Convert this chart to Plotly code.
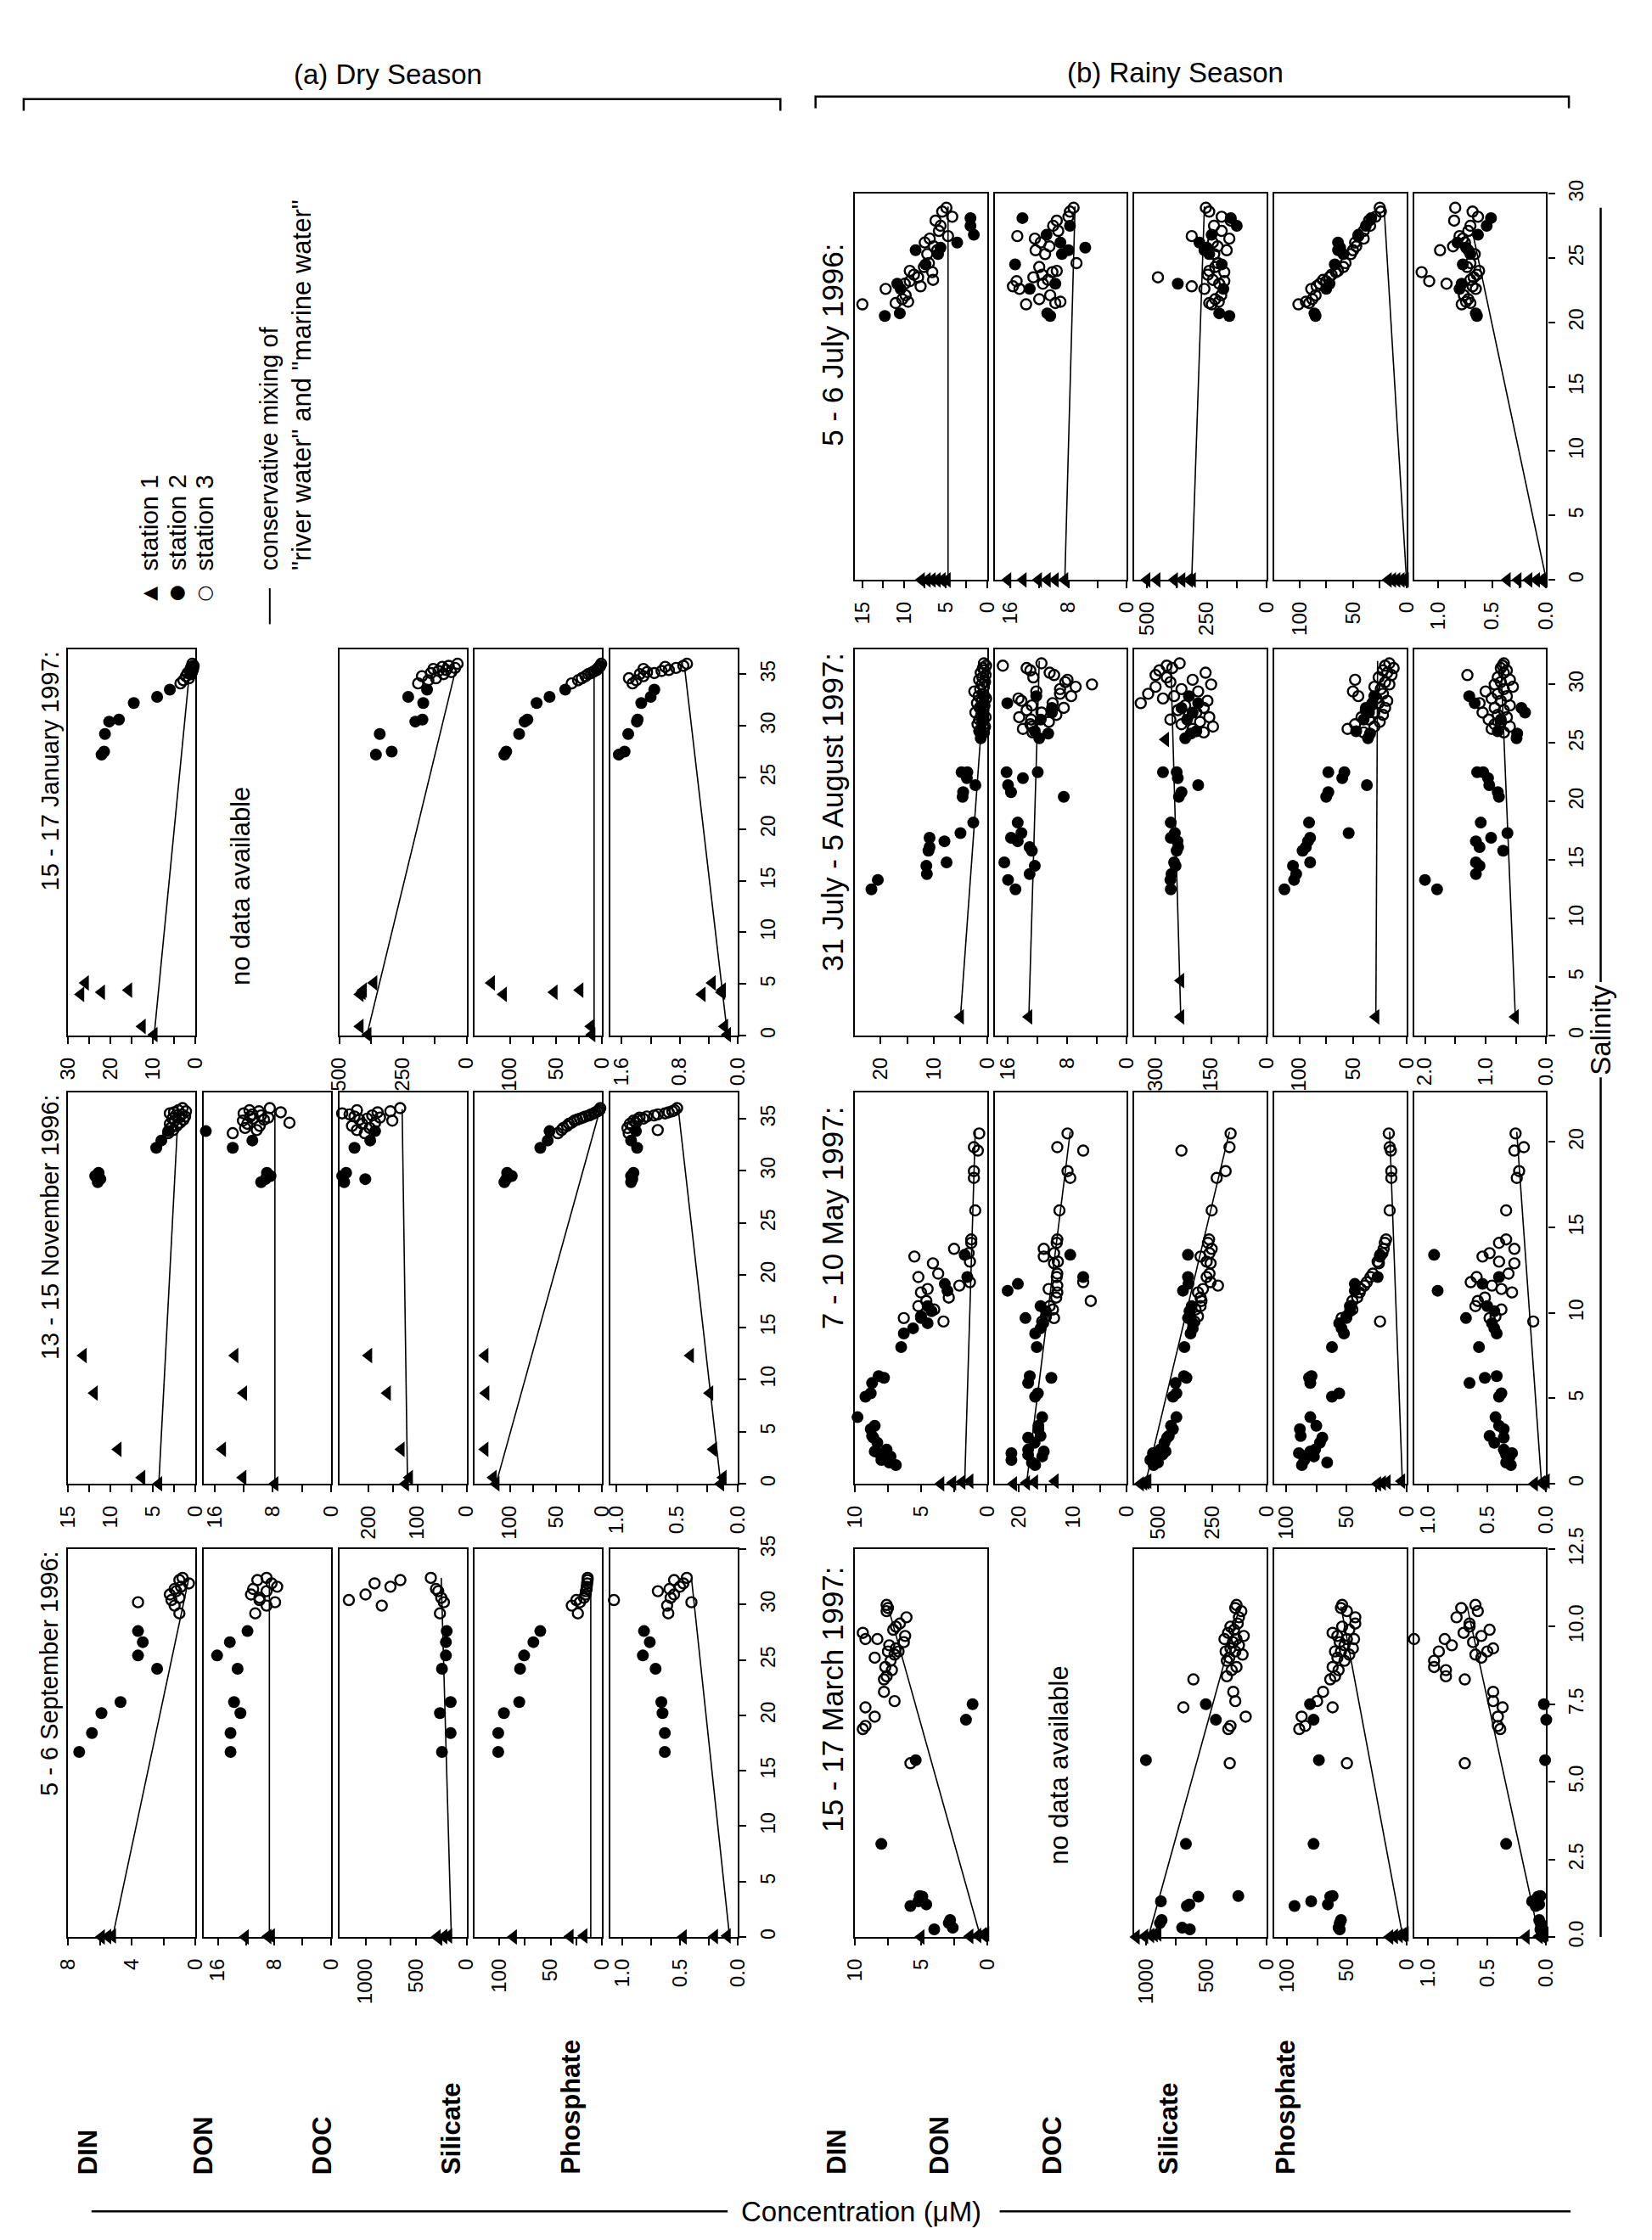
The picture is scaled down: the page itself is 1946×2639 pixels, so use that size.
import plotly.graph_objects as go

# ---------------- data (salinity, concentration in uM) ----------------
# station 1 = triangles, station 2 = filled circles, station 3 = open circles
# mix = conservative mixing line (river end, marine end)

# 5 - 6 September 1996
sep96_st1_sal = [0.0, 0.05, 0.1]
sep96_st1_din = [5.9, 5.5, 5.2]
sep96_st1_don = [12.1, 8.9, 8.4]
sep96_st1_doc = [290, 224, 176]
sep96_st1_sil = [86, 31, 17.6]
sep96_st1_pho = [0.47, 0.20, 0.09]
sep96_st2_sal = [16.7, 18.4, 20.2, 21.2, 24.2, 25.4, 26.6, 27.6]
sep96_st2_din = [7.3, 6.5, 5.9, 4.7, 2.4, 3.6, 3.3, 3.6]
sep96_st2_don = [14.2, 14.2, 12.8, 13.7, 13.2, 16.1, 14.3, 11.8]
sep96_st2_doc = [243, 157, 263, 157, 243, 204, 204, 196]
sep96_st2_sil = [100.8, 100.8, 95.3, 80.4, 79.6, 75.7, 66.7, 60.0]
sep96_st2_pho = [0.63, 0.63, 0.65, 0.66, 0.71, 0.82, 0.76, 0.81]
sep96_st3_sal = [29.2, 29.9, 30.2, 30.4, 30.6, 30.9, 31.2, 31.4, 31.6, 31.9, 32.2, 32.4]
sep96_st3_din = [1.0, 1.3, 3.6, 1.5, 1.0, 1.6, 1.2, 1.3, 0.9, 0.4, 1.0, 0.8]
sep96_st3_don = [10.7, 9.1, 7.9, 10.1, 10.1, 11.3, 9.1, 11.0, 7.6, 8.4, 10.4, 9.1]
sep96_st3_doc = [263, 839, 224, 1165, 250, 1000, 280, 302, 753, 910, 655, 353]
sep96_st3_sil = [23.5, 29.4, 21.6, 25.0, 17.6, 16.0, 15.7, 15.0, 14.9, 14.5, 14.1, 14.0]
sep96_st3_pho = [0.60, 0.61, 0.40, 1.07, 0.58, 0.55, 0.69, 0.59, 0.50, 0.47, 0.55, 0.44]
sep96_mix_sal = [0.0, 32.4]
sep96_mix_din = [5.2, 0.4]
sep96_mix_don = [8.7, 8.7]
sep96_mix_doc = [150, 250]
sep96_mix_sil = [11, 11]
sep96_mix_pho = [0.07, 0.40]

# 13 - 15 November 1996
nov96_st1_sal = [12.3, 8.7, 3.3, 0.6, 0.0]
nov96_st1_din = [13.2, 11.9, 9.1, 6.3, 4.3]
nov96_st1_don = [13.2, 12.0, 14.9, 12.1, 7.7]
nov96_st1_doc = [199, 161, 133, 116, 124]
nov96_st1_sil = [127, 126, 127, 118, 115]
nov96_st1_pho = [0.39, 0.23, 0.20, 0.12, 0.14]
nov96_st2_sal = [28.9, 29.2, 29.5, 29.8, 32.2, 32.9, 33.8]
nov96_st2_din = [11.5, 11.2, 11.8, 11.4, 4.6, 4.0, 3.2]
nov96_st2_don = [9.6, 9.0, 8.3, 8.8, 13.5, 10.8, 17.2]
nov96_st2_doc = [249, 206, 253, 245, 228, 196, 186]
nov96_st2_sil = [106, 104, 98, 103, 67, 59, 57]
nov96_st2_pho = [0.88, 0.87, 0.88, 0.86, 0.83, 0.88, 0.84]
nov96_st3_sal = [33.6, 33.9, 34.1, 34.3, 34.5, 34.6, 34.8, 34.9, 35.0,
                 35.1, 35.2, 35.3, 35.4, 35.5, 35.6, 35.7, 35.8, 36.0]
nov96_st3_din = [3.2, 2.6, 2.9, 2.2, 3.0, 1.8, 2.4, 1.4, 2.7, 1.9, 1.2, 2.3, 1.6, 3.0, 2.5, 1.1, 2.0, 1.5]
nov96_st3_don = [13.5, 10.2, 11.8, 9.8, 11.5, 5.7, 12.1, 9.2, 10.7, 8.6, 11.1, 9.6, 10.8, 12.0, 6.9, 9.9, 11.2, 8.4]
nov96_st3_doc = [207, 223, 197, 233, 212, 186, 151, 218, 202, 176, 228, 192, 238, 253, 181, 155, 223, 135]
nov96_st3_sil = [48, 44, 42, 38, 36, 33, 30, 27, 24, 21, 18, 14, 12, 9, 7, 5, 3, 2]
nov96_st3_pho = [0.90, 0.66, 0.91, 0.87, 0.89, 0.84, 0.86, 0.83, 0.78,
                 0.81, 0.75, 0.69, 0.66, 0.60, 0.57, 0.54, 0.52, 0.50]
nov96_mix_sal = [0.0, 35.9]
nov96_mix_din = [4.3, 2.0]
nov96_mix_don = [7.7, 7.7]
nov96_mix_doc = [120, 131]
nov96_mix_sil = [115, 2.2]
nov96_mix_pho = [0.14, 0.49]

# 15 - 17 January 1997 (no DON data)
jan97_st1_sal = [5.1, 4.0, 4.2, 4.4, 0.9, 0.1]
jan97_st1_din = [25.9, 27.0, 22.1, 15.7, 12.5, 9.7]
jan97_st1_doc = [364, 418, 410, 405, 418, 387]
jan97_st1_sil = [120, 107, 52, 24, 12, 11]
jan97_st1_pho = [0.35, 0.49, 0.22, 0.21, 0.18, 0.14]
jan97_st2_sal = [27.2, 27.5, 29.2, 30.4, 30.6, 32.2, 32.8, 33.5]
jan97_st2_din = [22.1, 21.5, 21.3, 20.3, 18.0, 14.5, 9.0, 6.0]
jan97_st2_doc = [356, 294, 341, 201, 173, 170, 229, 155]
jan97_st2_sil = [106, 104, 90, 84, 81, 71, 57, 40]
jan97_st2_pho = [1.64, 1.56, 1.51, 1.39, 1.38, 1.33, 1.20, 1.15]
jan97_st3_sal = [34.1, 34.4, 34.6, 34.8, 35.0, 35.1, 35.2, 35.3, 35.4, 35.5, 35.6, 35.7, 35.8, 36.0]
jan97_st3_din = [3.5, 2.8, 1.5, 2.2, 1.0, 1.8, 0.8, 1.3, 0.6, 1.1, 0.5, 0.9, 0.4, 0.7]
jan97_st3_doc = [190, 150, 120, 175, 90, 140, 60, 110, 80, 130, 45, 95, 70, 35]
jan97_st3_sil = [33, 26, 22, 18, 15, 12, 10, 8, 6, 5, 4, 3, 2, 1]
jan97_st3_pho = [1.45, 1.40, 1.50, 1.30, 1.35, 1.15, 1.25, 1.05, 0.95, 1.30, 0.85, 1.00, 0.75, 0.70]
jan97_mix_sal = [0.0, 35.5]
jan97_mix_din = [9.7, 1.3]
jan97_mix_doc = [392, 42]
jan97_mix_sil = [8.7, 8.7]
jan97_mix_pho = [0.14, 0.73]

# 15 - 17 March 1997 (no DON data)
mar97_st1_sal = [0.0, 0.02, 0.05, 0.08, 0.1]
mar97_st1_din = [5.0, 1.3, 0.7, 0.3, 0.1]
mar97_st1_doc = [1080, 1010, 960, 930, 900]
mar97_st1_sil = [14, 10, 6, 3, 1]
mar97_st1_pho = [0.17, 0.06, 0.04, 0.02, 0.01]
mar97_st2_sal = [0.25, 0.3, 0.45, 0.55, 1.0, 1.05, 1.15, 1.3, 1.32, 3.0, 5.7, 7.0, 7.5]
mar97_st2_din = [4.0, 2.6, 2.9, 2.8, 5.8, 4.6, 5.2, 4.9, 5.1, 8.0, 5.4, 1.6, 1.1]
mar97_st2_doc = [636, 700, 884, 870, 661, 640, 876, 566, 235, 669, 1000, 421, 504]
mar97_st2_sil = [56, 57, 56, 55, 94, 66, 80, 64, 62, 78, 73.5, 78, 81]
mar97_st2_pho = [0.05, 0.04, 0.05, 0.06, 0.09, 0.06, 0.12, 0.07, 0.05, 0.34, 0.01, 0.0, 0.02]
mar97_st3_sal = [5.6, 6.7, 6.8, 7.1, 7.4, 7.6, 7.9, 8.3, 8.4, 8.6, 8.7, 8.9, 9.0, 9.1, 9.2,
                 9.2, 9.3, 9.4, 9.5, 9.6, 9.6, 9.7, 9.8, 9.9, 10.0, 10.1, 10.3, 10.5, 10.6, 10.7]
mar97_st3_din = [5.8, 9.4, 9.2, 8.5, 9.2, 7.0, 7.8, 7.8, 7.6, 7.2, 7.7, 7.3, 8.5, 7.0, 7.5,
                 6.7, 6.9, 7.4, 6.3, 9.2, 8.3, 6.2, 9.4, 7.1, 6.9, 6.6, 6.1, 7.6, 7.5, 7.6]
mar97_st3_doc = [306, 318, 300, 174, 690, 260, 277, 607, 330, 290, 250, 330, 310, 200, 260,
                 340, 300, 230, 280, 350, 250, 190, 320, 270, 300, 240, 230, 210, 260, 250]
mar97_st3_sil = [50, 90, 85, 88, 62, 75, 70, 64, 60, 57, 62, 52, 58, 48, 55,
                 60, 45, 52, 56, 50, 44, 58, 62, 48, 54, 43, 43, 50, 55, 54]
mar97_st3_pho = [0.69, 0.39, 0.41, 0.41, 0.37, 0.45, 0.45, 0.69, 0.85, 0.85, 0.95, 0.95, 0.55, 0.60, 0.91,
                 0.50, 0.45, 0.80, 0.62, 1.12, 0.86, 0.55, 0.70, 0.48, 0.65, 0.65, 0.76, 0.58, 0.72, 0.60]
mar97_mix_sal = [0.0, 10.65]
mar97_mix_din = [0.5, 7.5]
mar97_mix_doc = [980, 223]
mar97_mix_sil = [3, 55]
mar97_mix_pho = [0.06, 0.67]

# 7 - 10 May 1997
may97_st1_sal = [0.0, 0.05, 0.1, 0.15]
may97_st1_din = [3.5, 2.6, 1.9, 1.3]
may97_st1_don = [21.0, 18.6, 17.1, 13.3]
may97_st1_doc = [580, 565, 555, 546]
may97_st1_sil = [24, 20, 16, 4]
may97_st1_pho = [0.10, 0.04, 0.02, 0.0]
may97_st2_sal = [1.1, 1.25, 1.4, 1.6, 1.7, 1.8, 1.9, 2.0, 2.4, 2.7, 2.8, 3.2, 3.4, 3.9, 5.1,
                 5.3, 5.9, 6.2, 6.3, 8.0, 8.8, 9.1, 9.4, 9.7, 10.1, 10.4, 11.3, 11.7, 12.1, 13.4]
may97_st2_din = [6.9, 7.4, 8.0, 7.3, 7.9, 8.2, 8.5, 7.6, 8.3, 8.6, 8.7, 8.8, 8.5, 9.8, 9.2,
                 8.8, 8.7, 7.8, 8.2, 6.5, 6.3, 5.6, 4.5, 5.0, 4.2, 4.5, 3.0, 3.2, 1.5, 1.7]
may97_st2_don = [17.0, 17.6, 21.4, 15.7, 18.3, 21.4, 15.4, 18.3, 17.1, 18.3, 16.0, 16.4, 16.4, 15.7, 17.0,
                 16.5, 18.3, 14.0, 18.0, 16.7, 17.0, 16.0, 15.5, 18.8, 15.0, 16.0, 22.1, 20.2, 8.1, 10.5]
may97_st2_doc = [520, 500, 535, 507, 480, 523, 465, 490, 470, 458, 450, 431, 440, 415, 431,
                 415, 419, 369, 380, 378, 350, 340, 339, 362, 355, 345, 385, 360, 362, 362]
may97_st2_sil = [87, 66, 85, 77, 82, 89.5, 80, 76, 72, 70, 88, 88.7, 75, 80, 62,
                 56, 80, 81, 79, 62, 52, 54, 56, 50, 47, 46, 43, 43, 24, 22]
may97_st2_pho = [0.30, 0.34, 0.32, 0.31, 0.34, 0.29, 0.35, 0.36, 0.44, 0.36, 0.48, 0.36, 0.40, 0.43, 0.40,
                 0.38, 0.65, 0.52, 0.42, 0.57, 0.42, 0.44, 0.46, 0.68, 0.44, 0.50, 0.92, 0.54, 0.40, 0.95]
may97_st3_sal = [9.5, 9.7, 9.8, 10.2, 10.4, 10.7, 10.9, 11.2, 11.4, 11.6, 11.8, 12.1, 12.3,
                 12.9, 13.0, 13.3, 13.5, 13.75, 14.1, 14.3, 16.0, 17.9, 18.3, 19.5, 19.7, 20.5]
may97_st3_din = [3.3, 6.3, 5.0, 4.0, 5.2, 4.6, 2.9, 5.0, 4.5, 2.1, 1.3, 5.2, 3.7,
                 4.1, 1.3, 5.5, 1.4, 2.5, 1.2, 1.2, 0.9, 1.0, 1.0, 0.7, 1.0, 0.6]
may97_st3_don = [15.7, 13.5, 15.0, 13.7, 14.3, 6.7, 13.1, 12.9, 14.5, 12.9, 8.1, 13.0, 12.9,
                 13.5, 12.8, 15.4, 13.5, 15.4, 13.0, 12.9, 12.5, 10.5, 11.0, 8.1, 12.9, 11.0]
may97_st3_doc = [332, 350, 316, 327, 304, 300, 304, 316, 293, 224, 258, 276, 263,
                 258, 276, 304, 263, 253, 270, 265, 253, 230, 189, 392, 171, 166]
may97_st3_sil = [22, 54, 50, 45, 47, 45, 41, 39, 38, 35, 33, 30, 28,
                 23, 24, 22, 20, 19, 18, 17, 14, 12.6, 12.6, 13, 14, 14.7]
may97_st3_pho = [0.11, 0.48, 0.43, 0.38, 0.60, 0.58, 0.52, 0.29, 0.38, 0.46, 0.64, 0.59, 0.32,
                 0.27, 0.40, 0.54, 0.48, 0.27, 0.40, 0.34, 0.34, 0.25, 0.23, 0.27, 0.19, 0.26]
may97_mix_sal = [0.0, 20.6]
may97_mix_din = [1.7, 0.9]
may97_mix_don = [18.6, 10.5]
may97_mix_doc = [558, 171]
may97_mix_sil = [3.4, 14]
may97_mix_pho = [0.04, 0.25]

# 31 July - 5 August 1997
julaug97_st1_sal = [1.6, 4.7, 25.3]
julaug97_st1_din = [5.0, None, None]
julaug97_st1_don = [13.2, None, None]
julaug97_st1_doc = [232, 232, 273]
julaug97_st1_sil = [28.6, None, None]
julaug97_st1_pho = [0.51, None, None]
julaug97_st2_sal = [12.5, 13.3, 13.8, 14.5, 14.8, 15.8, 16.1, 16.6, 16.9, 17.3, 18.2, 20.4, 20.8,
                    21.4, 22.0, 22.5, 22.5, 25.4, 25.8, 26.0, 27.0, 27.6, 28.0, 28.4, 29.0]
julaug97_st2_din = [21.7, 20.5, 11.3, 11.4, 7.6, 11.0, 10.8, 8.0, 10.8, 5.0, 2.6, 4.6, 4.5,
                    2.2, 3.8, 4.8, 3.7, 1.2, 1.0, 1.5, 0.8, 0.9, 1.3, 0.6, 0.5]
julaug97_st2_don = [15.0, 16.0, 13.1, 12.4, 16.5, 12.8, 13.1, 14.7, 15.6, 14.2, 14.7, 8.5, 15.6,
                    16.0, 14.0, 16.2, 12.0, 11.8, 10.6, 12.4, 11.6, 10.1, 10.1, 16.1, 12.2]
julaug97_st2_doc = [259, 260, 257, 246, 250, 243, 239, 241, 259, 248, 259, 237, 230,
                    185, 240, 280, 243, 220, 205, 190, 215, 200, 230, 185, 210]
julaug97_st2_sil = [114, 105, 103, 106, 90, 97, 94, 92, 90, 54, 91, 75, 73,
                    37, 60, 73, 58, 36, 34, 47, 40, 35, 38, 32, 30]
julaug97_st2_pho = [1.8, 2.0, 1.16, 1.10, 1.16, 0.71, 1.10, 1.16, 0.91, 0.64, 1.08, 0.78, 0.80,
                    0.94, 0.96, 1.14, 1.04, 0.49, 0.48, 0.80, 0.75, 0.35, 0.41, 1.18, 1.27]
julaug97_st3_sal = [25.9, 26.2, 26.4, 26.6, 26.8, 27.0, 27.2, 27.4, 27.6, 27.8, 28.0, 28.2, 28.4, 28.6, 28.8,
                    29.0, 29.2, 29.4, 29.6, 29.8, 30.0, 30.2, 30.4, 30.6, 30.8, 31.0, 31.2, 31.4, 31.6, 31.8]
julaug97_st3_din = [0.6, 1.2, 0.4, 1.8, 0.9, 1.5, 0.3, 1.1, 2.2, 0.7, 1.4, 0.5, 1.9, 1.0, 0.2,
                    1.6, 0.8, 2.4, 1.3, 0.6, 1.0, 0.4, 1.5, 0.9, 0.3, 1.2, 0.5, 0.8, 0.2, 0.6]
julaug97_st3_don = [12.7, 14.0, 12.8, 13.0, 10.5, 12.9, 14.5, 9.5, 11.5, 13.5, 8.5, 12.8, 10.0, 14.2, 14.6,
                    7.5, 9.0, 12.2, 9.0, 6.9, 4.7, 8.3, 8.0, 12.6, 9.8, 10.4, 13.0, 13.5, 16.7, 11.5]
julaug97_st3_doc = [170, 200, 145, 230, 180, 260, 155, 210, 190, 240, 170, 220, 340, 160, 280,
                    250, 320, 185, 230, 300, 150, 260, 200, 270, 300, 165, 290, 255, 270, 235]
julaug97_st3_sil = [40, 55, 30, 48, 25, 35, 42, 22, 30, 38, 20, 33, 26, 18, 28,
                    45, 22, 50, 24, 30, 16, 20, 48, 26, 14, 18, 22, 12, 20, 16]
julaug97_st3_pho = [0.70, 0.90, 0.60, 0.85, 0.75, 0.95, 0.65, 0.80, 1.05, 0.70, 0.85, 0.60, 1.10, 0.75, 0.90,
                    0.65, 0.80, 1.00, 0.70, 0.55, 0.85, 0.75, 0.60, 0.80, 1.30, 0.70, 0.65, 0.75, 0.72, 0.70]
julaug97_mix_sal = [1.6, 32.0]
julaug97_mix_din = [5.0, 0.2]
julaug97_mix_don = [13.2, 11.8]
julaug97_mix_doc = [232, 259]
julaug97_mix_sil = [28.6, 27.0]
julaug97_mix_pho = [0.51, 0.75]

# 5 - 6 July 1996
jul96_st1_sal = [0.0, 0.0, 0.0, 0.0, 0.0, 0.0]
jul96_st1_din = [7.9, 7.2, 6.6, 6.0, 5.4, 4.8]
jul96_st1_don = [16.3, 14.2, 12.1, 10.9, 9.8, 8.5]
jul96_st1_doc = [500, 458, 385, 354, 323, 310]
jul96_st1_sil = [17, 13, 9, 5, 2, 1]
jul96_st1_pho = [0.36, 0.26, 0.16, 0.09, 0.04, 0.02]
jul96_st2_sal = [20.5, 20.7, 22.6, 23.0, 24.5, 25.3, 25.6, 25.8, 26.2, 26.8, 27.5, 28.1]
jul96_st2_din = [12.3, 10.5, 10.4, 10.8, 7.4, 5.9, 8.6, 5.6, 3.6, 1.6, 2.0, 2.0]
jul96_st2_don = [10.5, 10.9, 13.3, 9.8, 15.3, 8.9, 8.0, 5.7, 9.1, 11.0, 7.8, 14.3]
jul96_st2_doc = [156, 198, 181, 371, 188, 240, 260, 250, 281, 230, 125, 150]
jul96_st2_sil = [85, 86, 75, 72, 67, 59, 64, 62, 64, 45, 38, 33]
jul96_st2_pho = [0.64, 0.65, 0.80, 0.78, 0.77, 0.70, 0.72, 0.74, 0.82, 0.63, 0.55, 0.51]
jul96_st3_sal = [21.4, 21.5, 21.6, 21.8, 22.1, 22.6, 22.8, 23.0, 23.2, 23.3, 23.5, 23.7, 23.9, 24.0,
                 24.3, 24.6, 25.3, 25.6, 25.9, 26.2, 26.5, 26.7, 27.1, 27.5, 27.9, 28.2, 28.6, 28.9]
jul96_st3_din = [15.0, 11.0, 9.5, 10.2, 9.8, 12.2, 8.0, 9.9, 9.3, 6.5, 8.3, 8.8, 6.6, 9.3,
                 7.6, 7.0, 7.2, 6.0, 6.4, 7.5, 6.9, 4.7, 5.8, 5.6, 6.2, 4.2, 5.4, 4.9]
jul96_st3_don = [13.8, 9.8, 9.1, 12.0, 10.5, 14.7, 15.6, 11.5, 15.1, 10.8, 12.8, 11.6, 10.2, 9.6,
                 12.0, 6.9, 11.2, 12.5, 10.6, 11.8, 12.6, 15.0, 9.4, 10.1, 9.6, 8.0, 7.8, 7.3]
jul96_st3_doc = [229, 240, 200, 215, 190, 260, 313, 198, 177, 225, 454, 246, 177, 240,
                 215, 204, 219, 167, 205, 225, 156, 313, 188, 220, 150, 188, 240, 254]
jul96_st3_sil = [101, 91, 94, 88, 85, 89, 84, 81, 75, 78, 72, 70, 66, 64,
                 59, 57, 52, 50, 47, 48, 40, 45, 40, 34, 35, 29, 24, 25]
jul96_st3_pho = [0.78, 0.70, 0.74, 0.72, 0.76, 0.65, 0.68, 0.92, 1.08, 0.70, 0.67, 0.64, 1.15, 0.62,
                 0.73, 0.70, 0.66, 0.98, 0.86, 0.75, 0.77, 0.80, 0.72, 0.70, 0.85, 0.63, 0.68, 0.84]
jul96_mix_sal = [0.0, 29.0]
jul96_mix_din = [4.7, 4.7]
jul96_mix_don = [8.5, 7.1]
jul96_mix_doc = [313, 260]
jul96_mix_sil = [0.0, 21.0]
jul96_mix_pho_sal = [0.0, 27.0]
jul96_mix_pho = [0.0, 0.68]

VARS = ["din", "don", "doc", "sil", "pho"]
VAR_LABELS = ["DIN", "DON", "DOC", "Silicate", "Phosphate"]

# ---------------- layout (pixel positions of the reference page) ----------------
FIG_W, FIG_H, OFF = 1930, 2623, 8
SANS = "Liberation Sans, Arial, Helvetica, sans-serif"


def fx(x):
    return (x - OFF) / FIG_W


def fy(y):
    return 1 - (y - OFF) / FIG_H


def note(x, y, text, size, angle=-90, xa="center", ya="middle", family=SANS):
    return dict(x=fx(x), y=fy(y), xref="paper", yref="paper", text=text, textangle=angle,
                showarrow=False, xanchor=xa, yanchor=ya,
                font=dict(family=family, size=size, color="black"))


DRY_COLS = [(67, 219), (229, 381), (391, 543), (553, 705), (715, 867)]
RAINY_COLS = [(1007, 1165), (1174, 1332), (1341, 1499), (1508, 1666), (1675, 1833)]
ROWS = {"A": (205, 667), "B": (750, 1212), "C": (1280, 1748), "D": (1826, 2290)}

# key, season, row, title, title position (y px), salinity axis (max, step, decimals)
SURVEYS = [
    ("sep96", "dry", "D", "5 - 6 September 1996:", 1826, (35.0, 5, 0)),
    ("nov96", "dry", "C", "13 - 15 November 1996:", 1280, (37.5, 5, 0)),
    ("jan97", "dry", "B", "15 - 17 January 1997:", 750, (37.4, 5, 0)),
    ("mar97", "rainy", "D", "15 - 17 March 1997:", 2006, (12.5, 2.5, 1)),
    ("may97", "rainy", "C", "7 - 10 May 1997:", 1430, (22.9, 5, 0)),
    ("julaug97", "rainy", "B", "31 July - 5 August 1997:", 944, (33.0, 5, 0)),
    ("jul96", "rainy", "A", "5 - 6 July 1996:", 386, (30.0, 5, 0)),
]

# concentration axis per panel: (range max, label step, decimals); None = no data
CONC_AXES = {
    "sep96": [(8, 4, 0), (18, 8, 0), (1260, 500, 0), (123.5, 50, 0), (1.10, 0.5, 1)],
    "nov96": [(15, 5, 0), (17.5, 8, 0), (259, 100, 0), (138, 50, 0), (1.05, 0.5, 1)],
    "jan97": [(30, 10, 0), None, (500, 250, 0), (138, 50, 0), (1.755, 0.8, 1)],
    "mar97": [(10, 5, 0), None, (1095, 500, 0), (111, 50, 0), (1.12, 0.5, 1)],
    "may97": [(10, 5, 0), (24.5, 10, 0), (608, 250, 0), (110, 50, 0), (1.12, 0.5, 1)],
    "julaug97": [(24.8, 10, 0), (17.8, 8, 0), (357, 150, 0), (123.5, 50, 0), (2.18, 1.0, 1)],
    "jul96": [(15.9, 5, 0), (18.1, 8, 0), (552, 250, 0), (123.6, 50, 0), (1.22, 0.5, 1)],
}

MARKERS = {
    1: dict(symbol="triangle-left", size=16, color="black"),
    2: dict(symbol="circle", size=14, color="black"),
    3: dict(symbol="circle-open", size=12, color="black", line=dict(width=2.4, color="black")),
}


def make_ticks(top, step, minor, dec):
    vals, text = [], []
    k = 0
    while k * minor <= top + 1e-9:
        v = round(k * minor, 6)
        vals.append(v)
        lab = abs(v / step - round(v / step)) < 1e-6
        text.append(f"{v:.{dec}f}" if lab else "")
        k += 1
    return vals, text


g = globals()
fig = go.Figure()
axes = {}
annotations = []
n = 0

for key, season, row, title, ty, (smax, sstep, sdec) in SURVEYS:
    cols = DRY_COLS if season == "dry" else RAINY_COLS
    top, bot = ROWS[row]
    for j, var in enumerate(VARS):
        conf = CONC_AXES[key][j]
        c0, c1 = cols[j]
        if conf is None:
            if season == "dry":
                annotations.append(note(273, 1033, "no data available", 31))
            else:
                annotations.append(note(1250, 2085, "no data available", 31))
            continue
        n += 1
        sfx = "" if n == 1 else str(n)
        xa, ya = "x" + sfx, "y" + sfx
        cmax, cstep, cdec = conf
        ctop = int(cmax / cstep + 1e-9) * cstep
        tv, tt = make_ticks(ctop, cstep, cstep / 2, cdec)

        # conservative mixing line
        msal = g.get(f"{key}_mix_{var}_sal", g[f"{key}_mix_sal"])
        fig.add_trace(go.Scatter(x=g[f"{key}_mix_{var}"], y=msal, mode="lines",
                                 line=dict(color="black", width=1.6), xaxis=xa, yaxis=ya,
                                 showlegend=False, hoverinfo="skip"))
        for st in (1, 2, 3):
            fig.add_trace(go.Scatter(x=g[f"{key}_st{st}_{var}"], y=g[f"{key}_st{st}_sal"],
                                     mode="markers", marker=MARKERS[st], xaxis=xa, yaxis=ya,
                                     cliponaxis=False, showlegend=False))

        axes["xaxis" + sfx] = dict(
            domain=[fx(c0), fx(c1)], range=[cmax, 0], anchor=ya, showgrid=False, zeroline=False,
            showline=True, linecolor="black", linewidth=2.2, mirror=True,
            ticks="outside", ticklen=8, tickwidth=1.8, tickcolor="black",
            tickmode="array", tickvals=tv, ticktext=tt, tickangle=-90, ticklabelstandoff=6,
            tickfont=dict(family=SANS, size=24, color="black"),
        )
        yax = dict(
            domain=[fy(bot), fy(top)], range=[0, smax], anchor=xa, showgrid=False, zeroline=False,
            showline=True, linecolor="black", linewidth=2.2, mirror=True,
        )
        if var == "pho":
            sv, st_ = make_ticks(int(smax / sstep + 1e-9) * sstep, sstep, sstep, sdec)
            yax.update(side="right", ticks="outside", ticklen=8, tickwidth=1.8, tickcolor="black",
                       tickmode="array", tickvals=sv, ticktext=st_, tickangle=-90,
                       ticklabelstandoff=6, tickfont=dict(family=SANS, size=23, color="black"))
        else:
            yax.update(ticks="", showticklabels=False)
        axes["yaxis" + sfx] = yax

    # survey title
    if season == "dry":
        annotations.append(note(45, ty, title, 29, ya="top"))
    else:
        annotations.append(note(980, ty, title, 35))

# variable names along the bottom
for xs in ([90, 228, 370, 525, 668], [985, 1108, 1243, 1382, 1522]):
    for xv, lab in zip(xs, VAR_LABELS):
        annotations.append(note(xv, 2576, f"<b>{lab}</b>", 31, ya="bottom"))

# season headers, axis titles
annotations += [
    note(449, 62, "(a) Dry Season", 33, angle=0),
    note(1390, 60, "(b) Rainy Season", 33, angle=0),
    note(1015, 2618, "Concentration (μM)", 33, angle=0),
    note(1898, 1205, "Salinity", 33),
]

# legend (rotated like the rest of the page)
for xv, sym, lab in [(164, "▲", "station 1"), (197, "●", "station 2"), (230, "○", "station 3")]:
    annotations.append(note(xv, 683, sym, 22, family="DejaVu Sans"))
    annotations.append(note(xv, 658, lab, 30, ya="bottom"))
annotations.append(note(308, 658, "conservative mixing of", 29, ya="bottom"))
annotations.append(note(347, 658, "\"river water\" and \"marine water\"", 31, ya="bottom"))


def seg(x0, y0, x1, y1, width=2.5):
    return dict(type="line", xref="paper", yref="paper", x0=fx(x0), y0=fy(y0), x1=fx(x1), y1=fy(y1),
                line=dict(color="black", width=width))


line = dict(color="black", width=2.5)
shapes = [
    # bracket lines under the season headers
    dict(type="path", xref="paper", yref="paper", line=line,
         path=f"M {fx(14)} {fy(106)} L {fx(14)} {fy(92)} L {fx(918)} {fy(92)} L {fx(918)} {fy(106)}"),
    dict(type="path", xref="paper", yref="paper", line=line,
         path=f"M {fx(960)} {fy(103)} L {fx(960)} {fy(89)} L {fx(1860)} {fy(89)} L {fx(1860)} {fy(103)}"),
    # concentration rule
    seg(95, 2618, 855, 2618), seg(1180, 2618, 1862, 2618),
    # salinity rule
    seg(1898, 222, 1898, 1148), seg(1898, 1262, 1898, 2290),
    # legend line symbol
    seg(308, 677, 308, 720, 2),
]

fig.update_layout(
    width=FIG_W, height=FIG_H, margin=dict(l=0, r=0, t=0, b=0),
    paper_bgcolor="white", plot_bgcolor="white", showlegend=False,
    annotations=annotations, shapes=shapes, **axes,
)

fig.write_html("out.html")
